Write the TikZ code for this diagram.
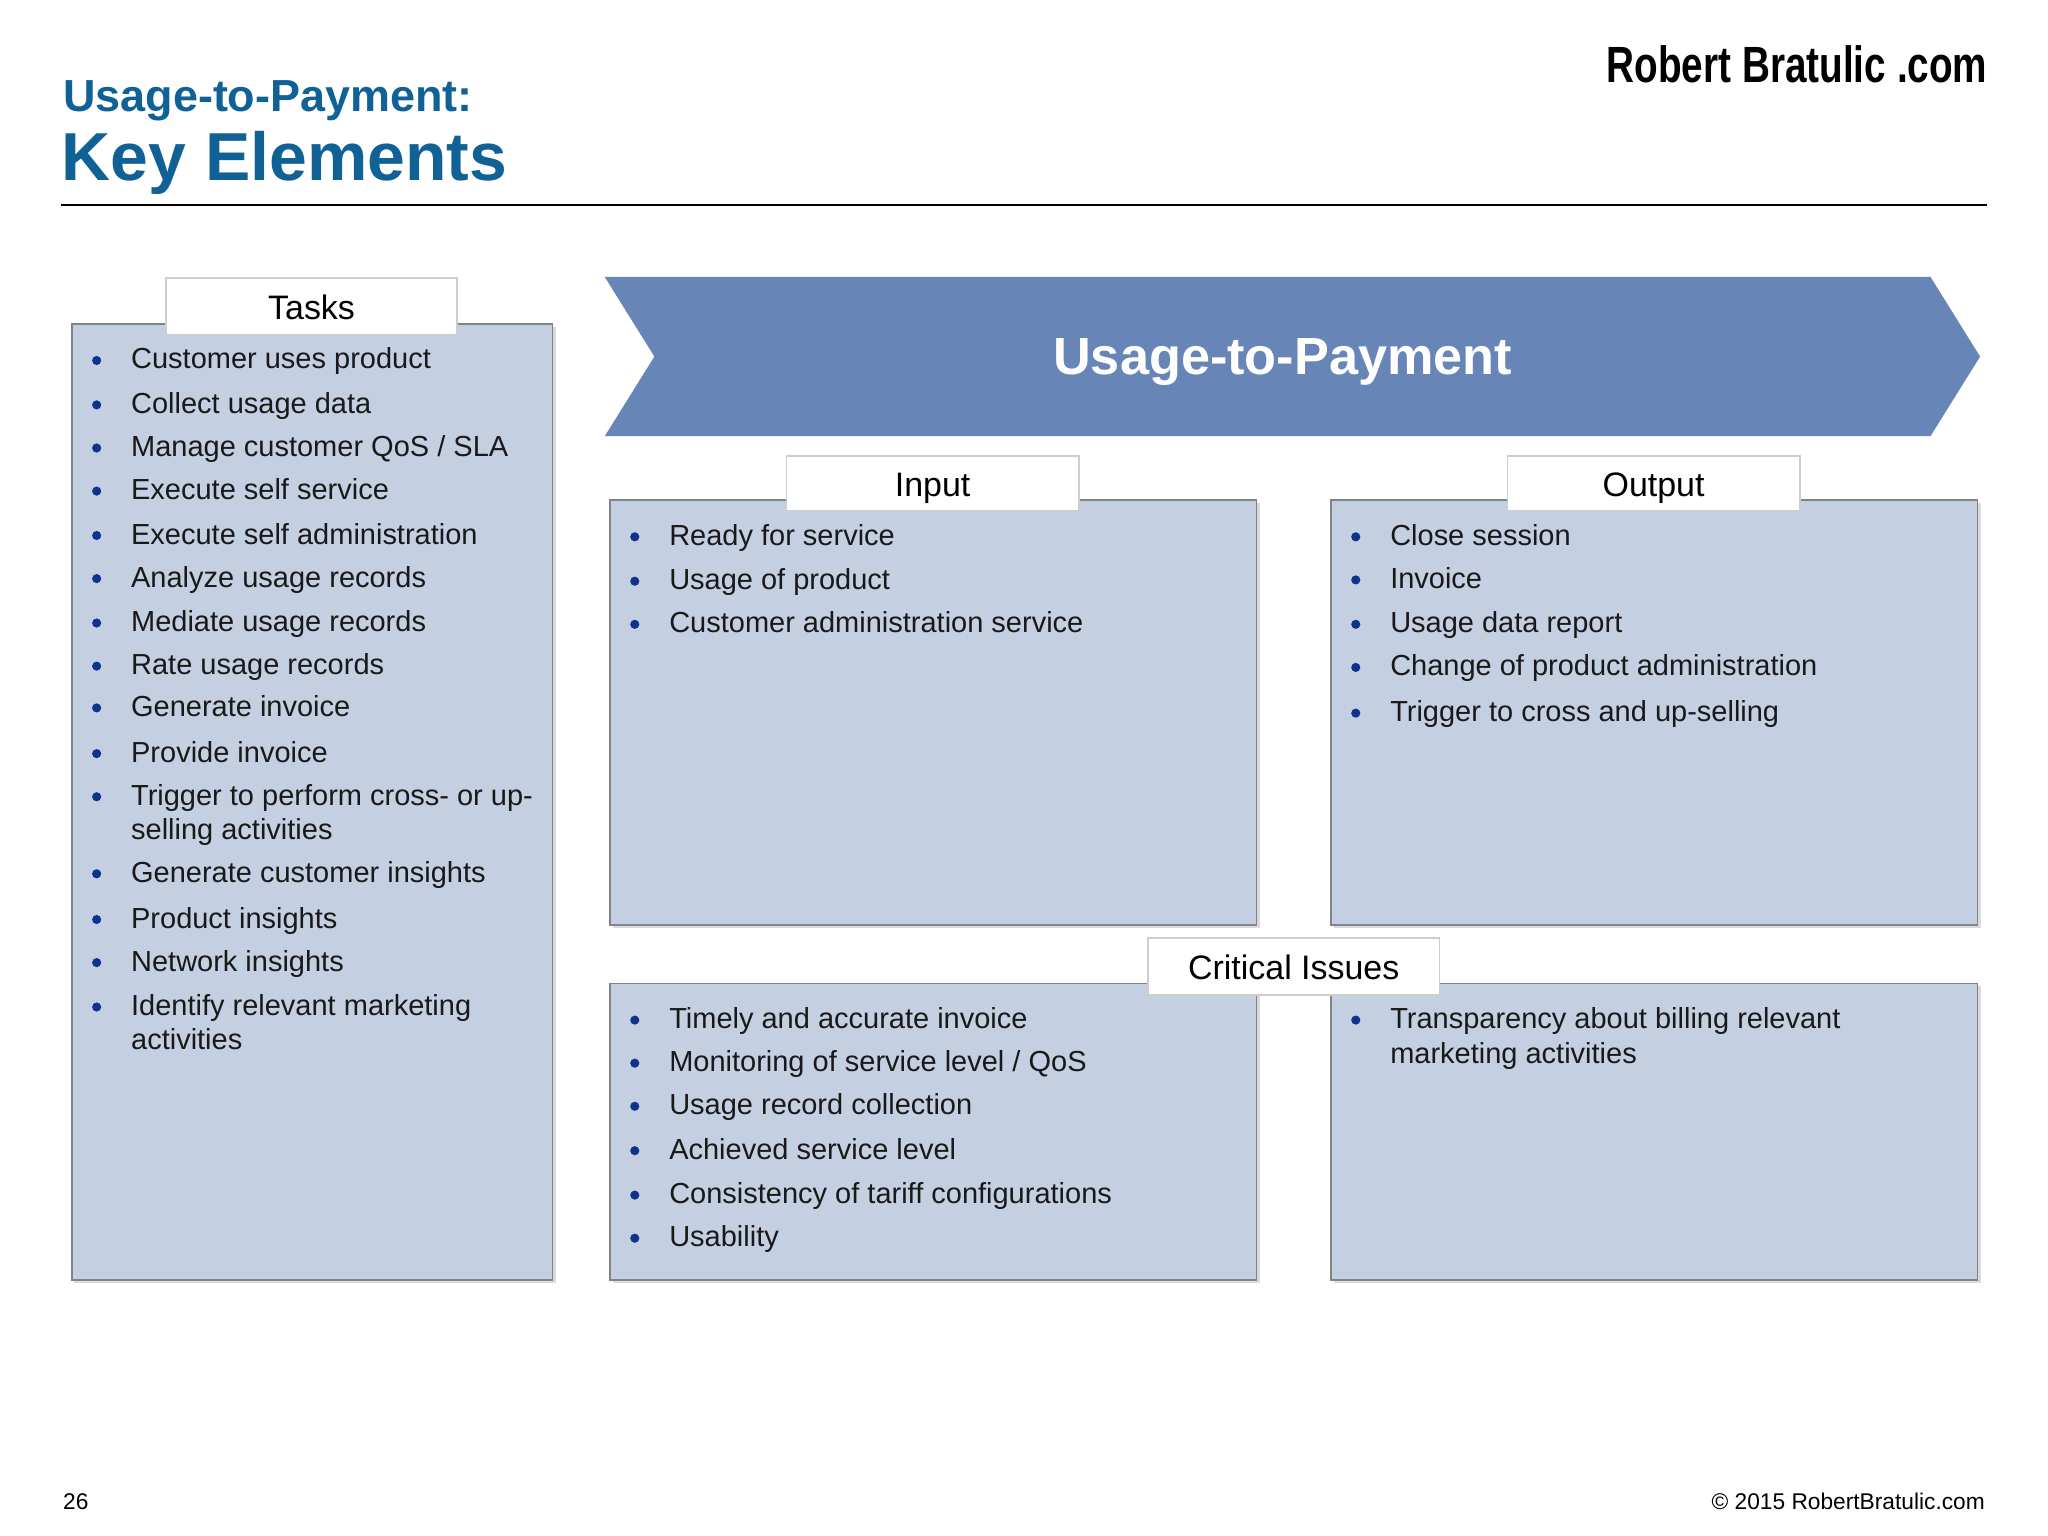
\documentclass[tikz,border=0pt]{standalone}
\usepackage{fontspec}
\setmainfont{Liberation Sans}
\definecolor{titleblue}{RGB}{16,98,150}
\definecolor{chev}{RGB}{103,134,183}
\definecolor{boxfill}{RGB}{197,207,226}
\definecolor{boxline}{RGB}{130,130,135}
\definecolor{tabline}{RGB}{205,205,205}
\definecolor{shad}{RGB}{218,218,222}
\definecolor{bulcol}{RGB}{15,50,140}
\definecolor{textcol}{RGB}{25,25,25}
\begin{document}
\begin{tikzpicture}[x=0.5pt,y=-0.5pt,
  itm/.style={anchor=base west, inner sep=0, font=\fontsize{11.1}{13}\selectfont, text=textcol},
  bul/.style={circle, fill=bulcol, inner sep=0, minimum size=3.5pt},
  panel/.style={draw=boxline, fill=boxfill, line width=0.6pt},
  shadowbox/.style={fill=shad},
  tabbox/.style={draw=tabline, fill=white, line width=0.6pt},
  tabtxt/.style={anchor=base, inner sep=0, font=\fontsize{13}{15}\selectfont, text=black}]
\useasboundingbox[fill=white] (0,0) rectangle (1568,1176);

% titles
\node[anchor=base west, inner sep=0, text=titleblue, font=\fontsize{17.2}{20}\selectfont\bfseries] (t1) at (48,85) {Usage-to-Payment:};
\node[anchor=base west, inner sep=0, text=titleblue, font=\fontsize{26}{30}\selectfont\bfseries] (t2) at (47,138) {Key Elements};
\draw[line width=1pt, black] (47,157) -- (1521,157);
\node[anchor=base east, inner sep=0, font=\fontsize{19.5}{22}\selectfont\bfseries] (logo) at (1522,63) {\scalebox{0.76}[1]{Robert Bratulic .com}};

% footer
\node[anchor=base west, inner sep=0, font=\fontsize{8.7}{10}\selectfont] (pg) at (48,1156) {26};
\node[anchor=base east, inner sep=0, font=\fontsize{8.7}{10}\selectfont] (copy) at (1520,1156) {\textcopyright{} 2015 RobertBratulic.com};

% chevron
\fill[chev] (463,212) -- (1478,212) -- (1516,273) -- (1478,334) -- (463,334) -- (501,273) -- cycle;
\node[anchor=base, inner sep=0, text=white, font=\fontsize{20}{24}\selectfont\bfseries] (chevtxt) at (982,287) {Usage-to-Payment};

% panel shadows
\fill[shadowbox] (57,250) rectangle (425.5,982.5);
\fill[shadowbox] (469,385) rectangle (964.5,710.5);
\fill[shadowbox] (1021,385) rectangle (1516.5,710.5);
\fill[shadowbox] (469,755) rectangle (964.5,982.5);
\fill[shadowbox] (1021,755) rectangle (1516.5,982.5);

% panels
\draw[panel] (55,248) rectangle (423,980);
\draw[panel] (467,383) rectangle (962,708);
\draw[panel] (1019,383) rectangle (1514,708);
\draw[panel] (467,753) rectangle (962,980);
\draw[panel] (1019,753) rectangle (1514,980);

% tabs
\draw[tabbox] (127,213) rectangle (350,256);
\node[tabtxt] (tasks) at (238.5,245) {Tasks};
\draw[tabbox] (602,349) rectangle (826,391);
\node[tabtxt] (input) at (714,380) {Input};
\draw[tabbox] (1154,349) rectangle (1378,391);
\node[tabtxt] (output) at (1266,380) {Output};
\draw[tabbox] (879,718) rectangle (1102,762);
\node[tabtxt] (crit) at (990.5,750) {Critical Issues};

% tasks
\foreach \yy/\tx [count=\i] in {275/Customer uses product, 309/Collect usage data, 342/{Manage customer QoS / SLA}, 375/Execute self service, 409/Execute self administration, 442/Analyze usage records, 476/Mediate usage records, 509/Rate usage records, 541/Generate invoice, 576/Provide invoice, 609/Trigger to perform cross- or up-, 635/selling activities, 668/Generate customer insights, 703/Product insights, 736/Network insights, 770/Identify relevant marketing, 796/activities}
  \node[itm] (task\i) at (100,\yy+7.5) {\tx};
\foreach \yy [count=\i] in {275,309,342,375,409,442,476,509,541,576,609,668,703,736,770}
  \node[bul] (tb\i) at (74,\yy+1) {};

% input
\foreach \yy/\tx [count=\i] in {410/Ready for service, 444/Usage of product, 477/Customer administration service}
  {\node[itm] (in\i) at (512,\yy+7.5) {\tx};
   \node[bul] (ib\i) at (486,\yy+1) {};}

% output
\foreach \yy/\tx [count=\i] in {410/Close session, 443/Invoice, 477/Usage data report, 510/Change of product administration, 545/Trigger to cross and up-selling}
  {\node[itm] (out\i) at (1064,\yy+7.5) {\tx};
   \node[bul] (ob\i) at (1038,\yy+1) {};}

% critical issues left
\foreach \yy/\tx [count=\i] in {780/Timely and accurate invoice, 813/{Monitoring of service level / QoS}, 846/Usage record collection, 880/Achieved service level, 914/Consistency of tariff configurations, 947/Usability}
  {\node[itm] (cl\i) at (512,\yy+7.5) {\tx};
   \node[bul] (clb\i) at (486,\yy+1) {};}

% critical issues right
\node[itm] (cr1) at (1064,787.5) {Transparency about billing relevant};
\node[itm] (cr2) at (1064,814.5) {marketing activities};
\node[bul] (crb1) at (1038,781) {};
\end{tikzpicture}
\end{document}
